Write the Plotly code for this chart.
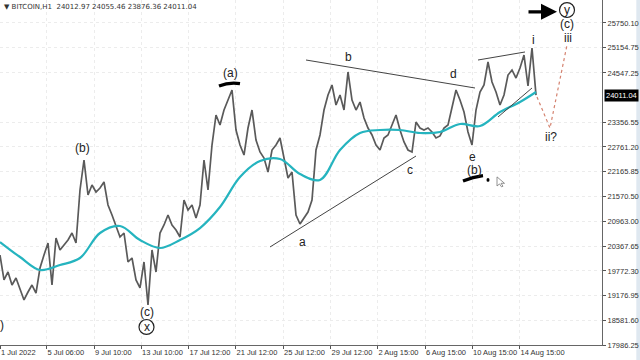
import plotly.graph_objects as go

# ---------------- data ----------------
# hourly bars, sampled every 8 bars (close prices read from the chart)
bar_step = 8
close_prices = [
    20156, 19554, 19747, 19433, 19602, 19313, 19072, 19264, 19433, 19240,
    19843, 20156, 20446, 19433, 20566, 20277, 20398, 20518, 20687, 20446,
    21724, 22447, 21603, 21844, 21675, 21772, 21916, 21362, 21121, 20880,
    20591, 20687, 19988, 20084, 19554, 19361, 19988, 18950, 20277, 19747,
    20687, 20880, 21121, 20880, 20759, 20591, 21483, 21241, 21362, 21048,
    21362, 22447, 21724, 22808, 23532, 23291, 23652, 23893, 24135, 23170,
    22808, 22567, 23218, 23652, 22929, 22640, 22495, 22158, 22688, 22808,
    22977, 22495, 22013, 22158, 21121, 20904, 21048, 21193, 21483, 22688,
    23050, 23652, 24014, 24255, 23773, 24014, 23652, 24569, 23893, 23652,
    23845, 23460, 23218, 23050, 22808, 22688, 22977, 23050, 23291, 23532,
    23170, 22881, 22688, 22640, 23363, 23218, 23170, 23218, 23122, 22977,
    23026, 23218, 23291, 23725, 24135, 23893, 23604, 23122, 22808, 23652,
    24086, 24255, 24810, 24327, 24086, 23773, 24014, 24496, 24617, 24424,
    24665, 24978, 24231, 25147, 24011.04,
]
bars = [i * bar_step for i in range(len(close_prices))]

# moving average (cyan), sampled every 40 bars, last point at the final bar
ma_bars = [0, 40, 80, 120, 160, 200, 240, 280, 320, 360, 400, 440, 480, 520,
           560, 600, 640, 680, 720, 760, 800, 840, 880, 920, 960, 1000, 1040, 1072]
ma_values = [20470, 20108, 19795, 19915, 20084, 20687, 20856, 20518, 20325, 20518,
             20807, 21314, 22037, 22423, 22471, 22109, 21965, 22688, 23098, 23170,
             23170, 23098, 23122, 23315, 23267, 23604, 23845, 24086]

# axes
x_tick_bars = [0, 93, 188, 282, 377, 471, 566, 661, 755, 850, 944, 1039]
x_tick_text = ["1 Jul 2022", "5 Jul 06:00", "9 Jul 10:00", "13 Jul 10:00", "17 Jul 12:00",
               "21 Jul 12:00", "25 Jul 12:00", "29 Jul 12:00", "2 Aug 15:00", "6 Aug 15:00",
               "10 Aug 15:00", "14 Aug 15:00"]
y_tick_vals = [25750.10, 25154.75, 24547.25, 23356.55, 22761.20, 22165.85, 21570.50,
               20963.00, 20367.65, 19772.30, 19176.95, 18581.60, 17986.25]
last_price = 24011.04
header = "\u25bc BITCOIN,H1  24012.97 24055.46 23876.36 24011.04"

# wave labels: (text, bar, price)
wave_labels = [
    ("(a)", 460, 24544), ("(b)", 164, 22736), ("(c)", 293, 18782), (")", 3, 18469),
    ("a", 604, 20470), ("b", 696, 24930), ("c", 820, 22206), ("d", 906, 24520),
    ("e", 944, 22519), ("(b)", 948, 22206), ("i", 1066, 25340), ("ii?", 1102, 23001),
    ("iii", 1136, 25388), ("(c)", 1134, 25726),
]
circled_labels = [("x", 293, 18421), ("y", 1134, 26063)]

# ---------------- figure ----------------
fig = go.Figure()

fig.add_trace(go.Scatter(x=bars, y=close_prices, mode="lines",
                         line=dict(color="#5a5a5a", width=1.7), hoverinfo="skip"))
fig.add_trace(go.Scatter(x=ma_bars, y=ma_values, mode="lines",
                         line=dict(color="#25b4bf", width=2.2, shape="spline", smoothing=1.0),
                         hoverinfo="skip"))

line_style = dict(color="#444444", width=1)
shapes = [
    dict(type="line", x0=540, y0=20350, x1=832, y1=22543, line=line_style),
    dict(type="line", x0=612, y0=24858, x1=950, y1=24183, line=line_style),
    dict(type="line", x0=956, y0=24858, x1=1050, y1=25051, line=line_style),
    dict(type="line", x0=996, y0=23484, x1=1064, y1=24183, line=line_style),
    # projected path
    dict(type="path", path="M 1074 23966 L 1100 23218 L 1134 25219",
         line=dict(color="#d4826f", width=1.2, dash="dot")),
    # hand-drawn strokes
    dict(type="path", path="M 438 24231 Q 458 24330 480 24290",
         line=dict(color="black", width=3.2)),
    dict(type="path", path="M 926 21941 Q 946 22040 966 22070",
         line=dict(color="black", width=3.2)),
    dict(type="circle", x0=973, y0=21920, x1=979, y1=22010,
         fillcolor="black", line=dict(color="black", width=0)),
    # cursor
    dict(type="path", path="M 994 22040 L 994 21820 L 999 21870 L 1003 21800 L 1006 21815 L 1002 21885 L 1009 21885 Z",
         fillcolor="white", line=dict(color="#777777", width=0.8)),
    # right strip
    dict(type="rect", xref="paper", yref="paper", x0=1.057, x1=1.07, y0=-0.1, y1=1.1,
         fillcolor="#dfe8f0", line=dict(width=0), layer="below"),
]
for txt, bx, py in circled_labels:
    shapes.append(dict(type="circle", x0=bx - 15, x1=bx + 15, y0=py - 180, y1=py + 180,
                       line=dict(color="#222222", width=1.2)))
fig.update_layout(shapes=shapes)

annotations = []
for txt, bx, py in wave_labels + circled_labels:
    annotations.append(dict(x=bx, y=py, text=txt, showarrow=False,
                            font=dict(family="Liberation Sans", size=12, color="#222222")))
# arrow pointing at circled y
annotations.append(dict(x=1114, y=26020, ax=-30, ay=0, text="", showarrow=True,
                        arrowhead=2, arrowsize=1, arrowwidth=3.2, arrowcolor="black"))
# header
annotations.append(dict(xref="paper", yref="paper", x=0.004, y=1.0, yshift=-1,
                        xanchor="left", yanchor="top", text=header, showarrow=False,
                        font=dict(family="DejaVu Sans", size=7, color="#333333")))
# last price box
annotations.append(dict(xref="paper", yref="y", x=1.0, y=last_price, xshift=2,
                        xanchor="left", yanchor="middle", text="24011.04", showarrow=False,
                        bgcolor="black", borderpad=1,
                        font=dict(family="Liberation Sans", size=7.5, color="white")))
fig.update_layout(annotations=annotations)

tick_font = dict(family="Liberation Sans", size=7.5, color="#333333")
fig.update_layout(
    width=640, height=360,
    margin=dict(l=0, r=38, t=0, b=15, autoexpand=False),
    paper_bgcolor="white", plot_bgcolor="white",
    showlegend=False,
    xaxis=dict(range=[0, 1204], tickvals=x_tick_bars, ticktext=x_tick_text,
               tickangle=0, automargin=False,
               ticks="outside", ticklen=3, tickcolor="#555555",
               ticklabelposition="outside right", tickfont=tick_font,
               showline=True, linecolor="#666666", linewidth=1,
               showgrid=True, gridcolor="#ececec", griddash="dot", zeroline=False),
    yaxis=dict(range=[17986.6, 26304.5], side="right", tickvals=y_tick_vals,
               ticktext=[f"{v:.2f}" for v in y_tick_vals], automargin=False,
               ticks="outside", ticklen=3, tickcolor="#555555", tickfont=tick_font,
               showline=True, linecolor="#666666", linewidth=1,
               showgrid=True, gridcolor="#ececec", griddash="dot", zeroline=False),
)

fig.write_html("out.html")
